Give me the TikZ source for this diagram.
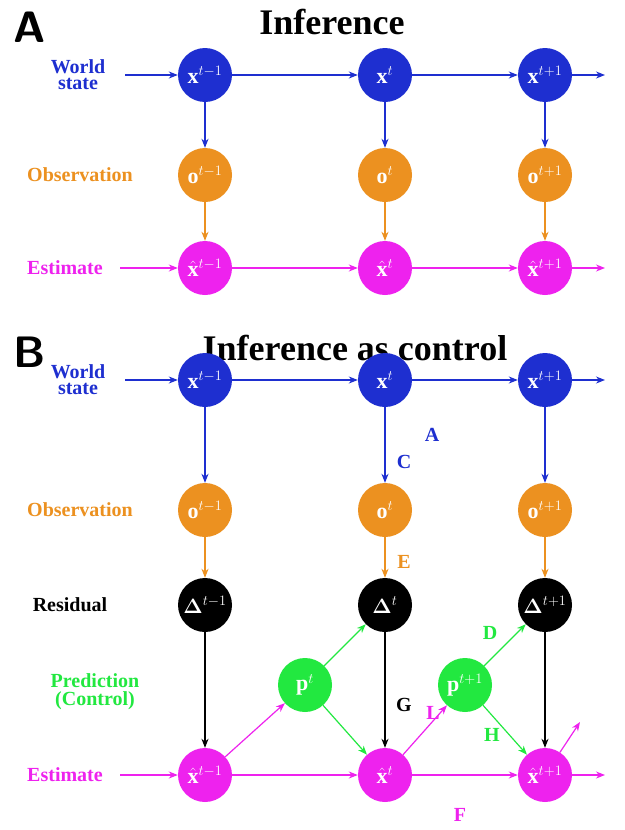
\documentclass[tikz,border=0pt]{standalone}
\usepackage{amsmath,amssymb}
\usepackage{bm}
\usepackage{fontspec}
\setmainfont{Liberation Serif}
\usetikzlibrary{arrows.meta}
\definecolor{myblue}{HTML}{1E2FD0}
\definecolor{myorange}{HTML}{EC9120}
\definecolor{mymag}{HTML}{EE22EE}
\definecolor{mygreen}{HTML}{22E840}
\begin{document}
\begin{tikzpicture}[x=1pt,y=-1pt,
 st/.style={circle,minimum size=54pt,inner sep=0pt,text=white,font=\bfseries\fontsize{22}{24}\selectfont},
 lab/.style={font=\bfseries\fontsize{20}{20}\selectfont,align=center},
 ar/.style={-{Stealth[length=9pt,width=7pt]},line width=1.2pt},
 ttl/.style={font=\bfseries\fontsize{36}{36}\selectfont},
 pl/.style={font=\sffamily\bfseries\fontsize{44}{44}\selectfont}]
\useasboundingbox[fill=white] (0,0) rectangle (624,830);
% Panel A
\node[pl] (PA) at (30,27) {A};
\node[ttl] (TA) at (332,22) {Inference};
\node[lab,text=myblue] (lwa) at (78,75) {World\\[-4pt]state};
\node[lab,text=myorange] (loa) at (80,175) {Observation};
\node[lab,text=mymag] (lea) at (65,268) {Estimate};
\coordinate (iwa) at (125,75); \coordinate (iea) at (120,268);
\coordinate (owa) at (605,75); \coordinate (oea) at (605,268);
\foreach \n/\x/\s in {1/205/{t-1},2/385/{t},3/545/{t+1}}{
 \node[st,fill=myblue] (xa\n) at (\x,75) {$\mathbf{x}^{\s}$};
 \node[st,fill=myorange] (oa\n) at (\x,175) {$\mathbf{o}^{\s}$};
 \node[st,fill=mymag] (ea\n) at (\x,268) {$\hat{\mathbf{x}}^{\s}$};
 \draw[ar,myblue] (xa\n) -- (oa\n);
 \draw[ar,myorange] (oa\n) -- (ea\n);
}
\draw[ar,myblue] (iwa) -- (xa1); \draw[ar,myblue] (xa1) -- (xa2); \draw[ar,myblue] (xa2) -- (xa3); \draw[ar,myblue] (xa3) -- (owa);
\draw[ar,mymag] (iea) -- (ea1); \draw[ar,mymag] (ea1) -- (ea2); \draw[ar,mymag] (ea2) -- (ea3); \draw[ar,mymag] (ea3) -- (oea);
% Panel B
\node[pl] (PB) at (30,352) {B};
\node[ttl] (TB) at (355,348) {Inference as control};
\node[lab,text=myblue] (lwb) at (78,380) {World\\[-4pt]state};
\node[lab,text=myorange] (lob) at (80,510) {Observation};
\node[lab,text=black] (lrb) at (70,605) {Residual};
\node[lab,text=mygreen] (lpb) at (95,692) {Prediction\\[-2pt](Control)};
\node[lab,text=mymag] (leb) at (65,775) {Estimate};
\coordinate (iwb) at (125,380); \coordinate (ieb) at (120,775);
\coordinate (owb) at (605,380); \coordinate (oeb) at (605,775);
\foreach \n/\x/\s in {1/205/{t-1},2/385/{t},3/545/{t+1}}{
 \node[st,fill=myblue] (xb\n) at (\x,380) {$\mathbf{x}^{\s}$};
 \node[st,fill=myorange] (ob\n) at (\x,510) {$\mathbf{o}^{\s}$};
 \node[st,fill=black] (rb\n) at (\x,605) {$\bm{\Delta}^{\s}$};
 \node[st,fill=mymag] (eb\n) at (\x,775) {$\hat{\mathbf{x}}^{\s}$};
 \draw[ar,myblue] (xb\n) -- (ob\n);
 \draw[ar,myorange] (ob\n) -- (rb\n);
 \draw[ar,black] (rb\n) -- (eb\n);
}
\node[st,fill=mygreen] (p2) at (305,685) {$\mathbf{p}^{t}$};
\node[st,fill=mygreen] (p3) at (465,685) {$\mathbf{p}^{t+1}$};
\coordinate (oxp) at (580,722);
\draw[ar,myblue] (iwb) -- (xb1); \draw[ar,myblue] (xb1) -- (xb2); \draw[ar,myblue] (xb2) -- (xb3); \draw[ar,myblue] (xb3) -- (owb);
\draw[ar,mymag] (ieb) -- (eb1); \draw[ar,mymag] (eb1) -- (eb2); \draw[ar,mymag] (eb2) -- (eb3); \draw[ar,mymag] (eb3) -- (oeb);
\draw[ar,mymag] (eb1) -- (p2); \draw[ar,mymag] (eb2) -- (p3); \draw[ar,mymag] (eb3) -- (oxp);
\draw[ar,mygreen] (p2) -- (rb2); \draw[ar,mygreen] (p2) -- (eb2);
\draw[ar,mygreen] (p3) -- (rb3); \draw[ar,mygreen] (p3) -- (eb3);
\node[lab,text=myblue] (lA) at (432,435) {A};
\node[lab,text=myblue] (lC) at (404,462) {C};
\node[lab,text=myorange] (lE) at (404,562) {E};
\node[lab,text=black] (lG) at (404,705) {G};
\node[lab,text=mygreen] (lD) at (490,633) {D};
\node[lab,text=mygreen] (lH) at (492,735) {H};
\node[lab,text=mymag] (lL) at (433,713) {L};
\node[lab,text=mymag] (lF) at (460,815) {F};
\end{tikzpicture}
\end{document}
